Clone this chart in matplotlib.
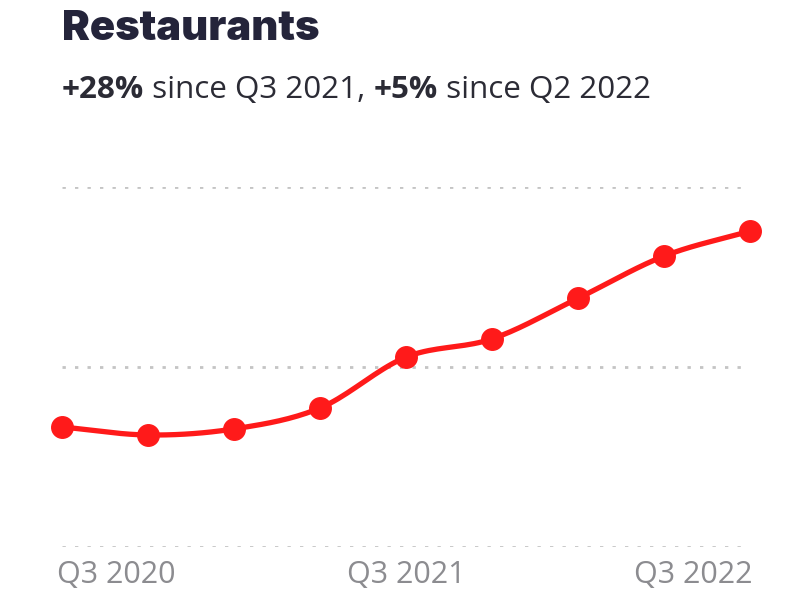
import numpy as np
import matplotlib
matplotlib.use('Agg')
import matplotlib.pyplot as plt

# index values, Q3 2020 = 100
quarters = ['Q3 2020', 'Q4 2020', 'Q1 2021', 'Q2 2021', 'Q3 2021',
            'Q4 2021', 'Q1 2022', 'Q2 2022', 'Q3 2022']
values = [100.0, 97.9, 99.5, 105.0, 118.4, 123.2, 133.9, 145.0, 151.6]
grid_levels = [68.4, 115.8, 163.2]
tick_labels = ['Q3 2020', 'Q3 2021', 'Q3 2022']
tick_pos = [0, 4, 8]

red = '#ff1a1a'
navy = '#24243a'


def smooth(x, y, n=20):
	# catmull-rom curve through the points, only for drawing the line
	x = np.asarray(x, float)
	y = np.asarray(y, float)
	px = np.concatenate([[2*x[0]-x[1]], x, [2*x[-1]-x[-2]]])
	py = np.concatenate([[2*y[0]-y[1]], y, [2*y[-1]-y[-2]]])
	xs, ys = [], []
	t = np.linspace(0, 1, n)
	for i in range(1, len(px)-2):
		for p, out in ((px, xs), (py, ys)):
			p0, p1, p2, p3 = p[i-1], p[i], p[i+1], p[i+2]
			out.extend(0.5*((2*p1) + (-p0+p2)*t + (2*p0-5*p1+4*p2-p3)*t**2 + (-p0+3*p1-3*p2+p3)*t**3))
	return np.array(xs), np.array(ys)


fig = plt.figure(figsize=(8, 6), dpi=100)
ax = fig.add_axes([62/800, 1-547/600, (750-62)/800, (547-187)/600])

x = np.arange(len(values))
sx, sy = smooth(x, values)
ax.plot(sx, sy, color=red, lw=3.8, solid_capstyle='round', clip_on=False, zorder=3)
ax.plot(x, values, 'o', color=red, ms=15.5, clip_on=False, zorder=4)

for g in grid_levels:
	ax.axhline(g, color='#c4c4c4', lw=2, linestyle=(0, (1.2, 3.3)), zorder=1)

ax.set_xlim(0, 8)
ax.set_ylim(grid_levels[0], grid_levels[-1])
ax.set_yticks([])
ax.set_xticks([])
for s in ax.spines.values():
	s.set_visible(False)

aligns = ['left', 'center', 'right']
shifts = [-5, 0, 2]
for pos, lab, ha, dx in zip(tick_pos, tick_labels, aligns, shifts):
	ax.annotate(lab, xy=(pos, grid_levels[0]), xytext=(dx*0.72, -20), textcoords='offset points',
		ha=ha, va='center', fontsize=22, color='#8c8c90', family='Open Sans')

fig.text(62/800, 1-40/600, 'Restaurants', fontsize=30, fontweight='black',
	family='Inter', color=navy, va='baseline', ha='left')

# subtitle with bold parts, each piece placed right after the previous one
parts = [('+28%', 'bold'), (' since Q3 2021, ', 'normal'), ('+5%', 'bold'), (' since Q2 2022', 'normal')]
prev = fig.text(62/800, 1-98/600, parts[0][0], fontsize=22.6, fontweight=parts[0][1],
	family='Open Sans', color='#2b2b35', ha='left', va='baseline')
for txt, w in parts[1:]:
	prev = ax.annotate(txt, xy=(1, 0), xycoords=prev, xytext=(0, 0), textcoords='offset points',
		fontsize=22.6, fontweight=w, family='Open Sans', color='#2b2b35',
		ha='left', va='bottom', annotation_clip=False)

fig.savefig('out.png', dpi=100)
